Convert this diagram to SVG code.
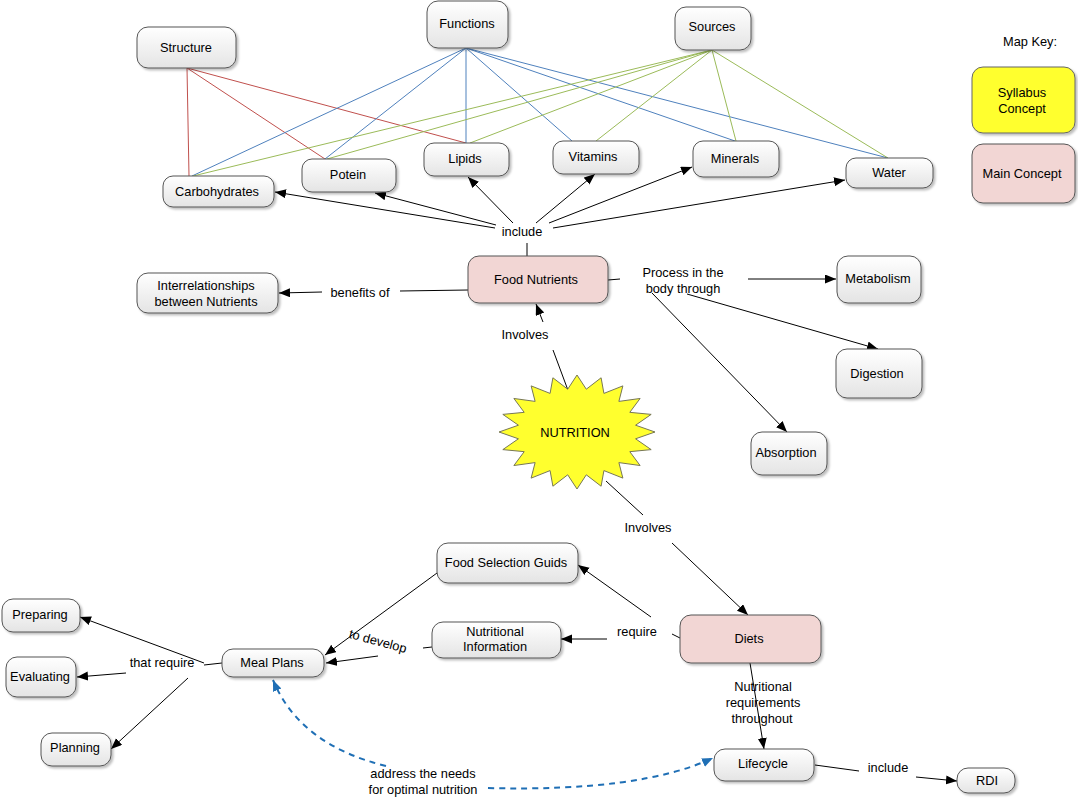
<svg xmlns="http://www.w3.org/2000/svg" width="1078" height="801" viewBox="0 0 1078 801">
<defs>
<linearGradient id="gw" x1="0" y1="0" x2="0" y2="1"><stop offset="0" stop-color="#ffffff"/><stop offset="1" stop-color="#e4e4e4"/></linearGradient>
<filter id="sh" x="-10%" y="-10%" width="130%" height="140%"><feDropShadow dx="2" dy="2" stdDeviation="1.2" flood-color="#000" flood-opacity="0.25"/></filter>
<marker id="ar" markerUnits="userSpaceOnUse" markerWidth="12" markerHeight="10" refX="11" refY="4.5" orient="auto"><path d="M0,0 L11,4.5 L0,9 Z" fill="#000"/></marker>
<marker id="ab" markerUnits="userSpaceOnUse" markerWidth="12" markerHeight="10" refX="11" refY="4.5" orient="auto"><path d="M0,0 L11,4.5 L0,9 Z" fill="#1f6fb5"/></marker>
</defs>
<style>
text{font-family:"Liberation Sans",Arial,sans-serif;font-size:12.8px;fill:#000;text-anchor:middle;dominant-baseline:central}
.n{fill:url(#gw);stroke:#555;stroke-width:1;filter:url(#sh)}
.m{fill:#f2d6d4;stroke:#555;stroke-width:1;filter:url(#sh)}
.y{fill:#ffff2e;stroke:#666;stroke-width:1;filter:url(#sh)}
.c{fill:none;stroke:#000;stroke-width:1}
.r{fill:none;stroke:#c0504d;stroke-width:1}
.b{fill:none;stroke:#4f81bd;stroke-width:1}
.g{fill:none;stroke:#9bbb59;stroke-width:1}
.d{fill:none;stroke:#1f6fb5;stroke-width:2;stroke-dasharray:6,5}
</style>
<rect width="1078" height="801" fill="#fff"/>

<g id="connectors">
<line class="r" x1="187" y1="68" x2="189" y2="176"/>
<line class="r" x1="187" y1="68" x2="325" y2="159"/>
<line class="r" x1="187" y1="68" x2="466" y2="143"/>
<line class="b" x1="466" y1="48" x2="192" y2="176"/>
<line class="b" x1="466" y1="48" x2="325" y2="159"/>
<line class="b" x1="466" y1="48" x2="466" y2="143"/>
<line class="b" x1="466" y1="48" x2="572" y2="141"/>
<line class="b" x1="466" y1="48" x2="735" y2="141"/>
<line class="b" x1="466" y1="48" x2="888" y2="158"/>
<line class="g" x1="712" y1="50" x2="193" y2="176"/>
<line class="g" x1="712" y1="50" x2="327" y2="159"/>
<line class="g" x1="712" y1="50" x2="470" y2="143"/>
<line class="g" x1="712" y1="50" x2="596" y2="141"/>
<line class="g" x1="712" y1="50" x2="736" y2="141"/>
<line class="g" x1="712" y1="50" x2="888" y2="158"/>
<line class="c" x1="527" y1="256" x2="527" y2="243"/>
<line class="c" x1="495" y1="228" x2="275" y2="192" marker-end="url(#ar)"/>
<line class="c" x1="496" y1="225" x2="375" y2="193" marker-end="url(#ar)"/>
<line class="c" x1="513" y1="223" x2="468" y2="177" marker-end="url(#ar)"/>
<line class="c" x1="536" y1="223" x2="595" y2="174" marker-end="url(#ar)"/>
<line class="c" x1="549" y1="223" x2="692" y2="167" marker-end="url(#ar)"/>
<line class="c" x1="553" y1="228" x2="845" y2="180" marker-end="url(#ar)"/>
<line class="c" x1="468" y1="290" x2="400" y2="291"/>
<line class="c" x1="322" y1="292" x2="279" y2="293" marker-end="url(#ar)"/>
<line class="c" x1="569" y1="393" x2="553" y2="350"/>
<line class="c" x1="543" y1="322" x2="536" y2="304" marker-end="url(#ar)"/>
<line class="c" x1="608" y1="280" x2="620" y2="279"/>
<line class="c" x1="748" y1="279" x2="836" y2="279" marker-end="url(#ar)"/>
<line class="c" x1="687" y1="294" x2="878" y2="349" marker-end="url(#ar)"/>
<line class="c" x1="652" y1="293" x2="787" y2="432" marker-end="url(#ar)"/>
<line class="c" x1="606" y1="481" x2="643" y2="515"/>
<line class="c" x1="672" y1="543" x2="748" y2="615" marker-end="url(#ar)"/>
<line class="c" x1="680" y1="638" x2="672" y2="634"/>
<line class="c" x1="651" y1="617" x2="578" y2="565" marker-end="url(#ar)"/>
<line class="c" x1="607" y1="639" x2="561" y2="639" marker-end="url(#ar)"/>
<line class="c" x1="437" y1="573" x2="325" y2="655" marker-end="url(#ar)"/>
<line class="c" x1="432" y1="647" x2="423" y2="648"/>
<line class="c" x1="378" y1="656" x2="326" y2="663" marker-end="url(#ar)"/>
<line class="c" x1="222" y1="663" x2="204" y2="665"/>
<line class="c" x1="204" y1="663" x2="80" y2="617" marker-end="url(#ar)"/>
<line class="c" x1="126" y1="673" x2="77" y2="677" marker-end="url(#ar)"/>
<line class="c" x1="188" y1="678" x2="111" y2="749" marker-end="url(#ar)"/>
<line class="c" x1="750" y1="663" x2="764" y2="749" marker-end="url(#ar)"/>
<line class="c" x1="815" y1="765" x2="859" y2="771"/>
<line class="c" x1="916" y1="777" x2="957" y2="781" marker-end="url(#ar)"/>
<path class="d" d="M386,766 Q300,745 273,680" marker-end="url(#ab)"/>
<path class="d" d="M488,788 Q640,792 713,758" marker-end="url(#ab)"/>
</g>

<g id="structure"><rect class="n" x="137" y="27" width="99" height="41" rx="11"/><text x="186" y="47">Structure</text></g>
<g id="functions"><rect class="n" x="427" y="1" width="81" height="47" rx="11"/><text x="467" y="23">Functions</text></g>
<g id="sources"><rect class="n" x="675" y="7" width="76" height="43" rx="11"/><text x="712" y="26">Sources</text></g>
<g id="carbohydrates"><rect class="n" x="163" y="176" width="111" height="31" rx="10"/><text x="217" y="191">Carbohydrates</text></g>
<g id="potein"><rect class="n" x="302" y="159" width="94" height="33" rx="10"/><text x="348" y="174">Potein</text></g>
<g id="lipids"><rect class="n" x="424" y="143" width="85" height="33" rx="10"/><text x="465" y="158">Lipids</text></g>
<g id="vitamins"><rect class="n" x="553" y="141" width="86" height="33" rx="10"/><text x="593" y="156">Vitamins</text></g>
<g id="minerals"><rect class="n" x="693" y="141" width="86" height="36" rx="10"/><text x="735" y="158">Minerals</text></g>
<g id="water"><rect class="n" x="846" y="158" width="87" height="30" rx="10"/><text x="889" y="172">Water</text></g>

<g id="mapkey"><text x="1030" y="41">Map Key:</text></g>
<g id="key-syllabus"><rect class="y" x="972" y="67" width="103" height="66" rx="11"/><text x="1022" y="92">Syllabus</text><text x="1022" y="108">Concept</text></g>
<g id="key-main"><rect class="m" x="972" y="144" width="103" height="59" rx="11"/><text x="1022" y="173">Main Concept</text></g>

<g id="food-nutrients"><rect class="m" x="468" y="256" width="140" height="47" rx="11"/><text x="536" y="279">Food Nutrients</text></g>
<g id="interrelationships"><rect class="n" x="137" y="273" width="141" height="40" rx="11"/><text x="206" y="285">Interrelationships</text><text x="206" y="301">between Nutrients</text></g>
<g id="metabolism"><rect class="n" x="837" y="256" width="84" height="47" rx="11"/><text x="878" y="278">Metabolism</text></g>
<g id="digestion"><rect class="n" x="836" y="349" width="86" height="49" rx="11"/><text x="877" y="373">Digestion</text></g>
<g id="absorption"><rect class="n" x="751" y="432" width="76" height="43" rx="11"/><text x="786" y="452">Absorption</text></g>

<g id="nutrition">
<polygon transform="translate(577,432) scale(78,57)" fill="#ffff2e" stroke="#777755" stroke-width="1" vector-effect="non-scaling-stroke" points="1,0 0.751,0.119 0.951,0.309 0.677,0.345 0.809,0.588 0.537,0.537 0.588,0.809 0.345,0.677 0.309,0.951 0.119,0.751 0,1 -0.119,0.751 -0.309,0.951 -0.345,0.677 -0.588,0.809 -0.537,0.537 -0.809,0.588 -0.677,0.345 -0.951,0.309 -0.751,0.119 -1,0 -0.751,-0.119 -0.951,-0.309 -0.677,-0.345 -0.809,-0.588 -0.537,-0.537 -0.588,-0.809 -0.345,-0.677 -0.309,-0.951 -0.119,-0.751 0,-1 0.119,-0.751 0.309,-0.951 0.345,-0.677 0.588,-0.809 0.537,-0.537 0.809,-0.588 0.677,-0.345 0.951,-0.309 0.751,-0.119"/>
<text x="575" y="432">NUTRITION</text>
</g>

<g id="food-selection"><rect class="n" x="437" y="543" width="141" height="40" rx="11"/><text x="506" y="562">Food Selection Guids</text></g>
<g id="nutritional-information"><rect class="n" x="432" y="622" width="129" height="36" rx="11"/><text x="495" y="631">Nutritional</text><text x="495" y="646">Information</text></g>
<g id="diets"><rect class="m" x="680" y="615" width="141" height="48" rx="11"/><text x="749" y="638">Diets</text></g>
<g id="lifecycle"><rect class="n" x="714" y="749" width="100" height="32" rx="11"/><text x="763" y="763">Lifecycle</text></g>
<g id="rdi"><rect class="n" x="957" y="768" width="58" height="25" rx="11"/><text x="987" y="780">RDI</text></g>
<g id="meal-plans"><rect class="n" x="222" y="649" width="102" height="28" rx="11"/><text x="272" y="662">Meal Plans</text></g>
<g id="preparing"><rect class="n" x="2" y="599" width="78" height="33" rx="11"/><text x="40" y="614">Preparing</text></g>
<g id="evaluating"><rect class="n" x="6" y="657" width="70" height="40" rx="11"/><text x="40" y="676">Evaluating</text></g>
<g id="planning"><rect class="n" x="41" y="733" width="70" height="33" rx="11"/><text x="75" y="747">Planning</text></g>

<g id="labels">
<text x="522" y="231">include</text>
<text x="360" y="292">benefits of</text>
<text x="525" y="334">Involves</text>
<text x="683" y="272">Process in the</text>
<text x="683" y="288">body through</text>
<text x="648" y="527">Involves</text>
<text x="637" y="631">require</text>
<text x="378" y="641" transform="rotate(15 378 641)">to develop</text>
<text x="162" y="662">that require</text>
<text x="763" y="686">Nutritional</text>
<text x="763" y="702">requirements</text>
<text x="762" y="718">throughout</text>
<text x="888" y="767">include</text>
<text x="423" y="773">address the needs</text>
<text x="423" y="789">for optimal nutrition</text>
</g>
</svg>
